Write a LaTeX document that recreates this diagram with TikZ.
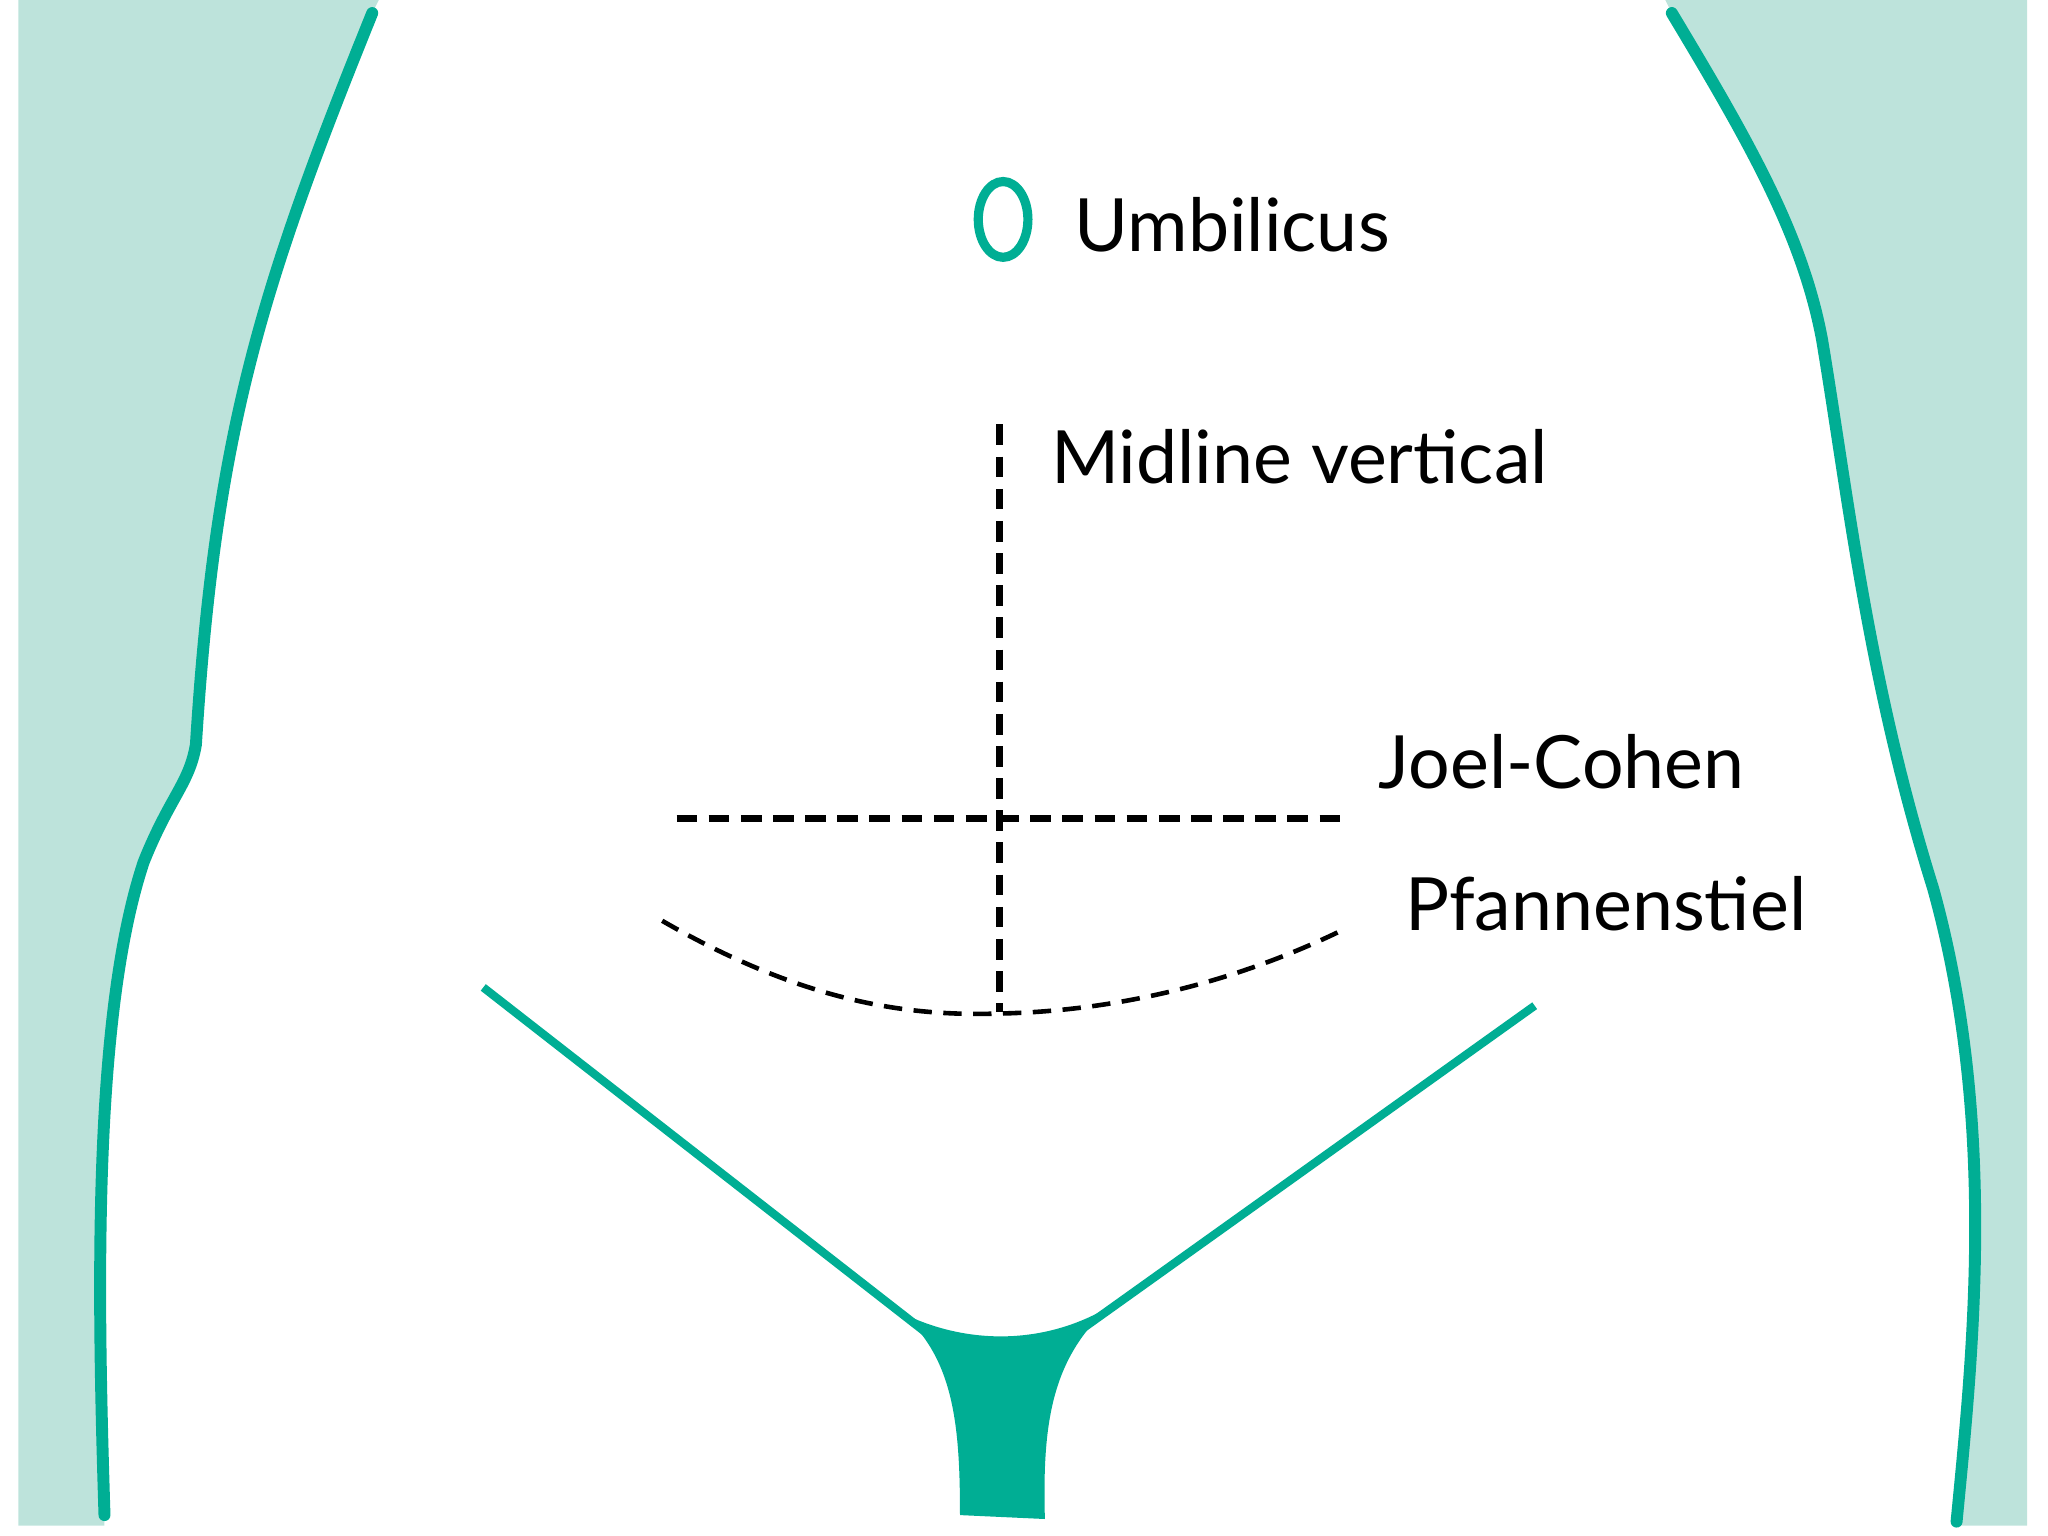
\documentclass[tikz,border=0pt]{standalone}
\usepackage{fontspec}
\setmainfont{Lato}
\definecolor{teal1}{HTML}{00AE94}
\definecolor{teallight}{HTML}{BDE3DB}
\begin{document}
\begin{tikzpicture}[x=0.01cm,y=-0.01cm,
  edge/.style={teal1,line width=2.6pt,line cap=round},
  lab/.style={anchor=west,font=\fontsize{16}{19}\selectfont,inner sep=0pt},
  cut/.style={black,line width=1.5pt,dash pattern=on 4.5pt off 2.5pt}]
\useasboundingbox (0,0) rectangle (1568,1176);
% left side
\fill[teallight] (14,0) -- (290,0) -- (285,10) .. controls (200,220) and (165,330) .. (150,570)
  .. controls (145,600) and (130,610) .. (110,660) .. controls (70,780) and (75,1000) .. (80,1160) -- (80,1168) -- (14,1168) -- cycle;
\draw[edge] (285,10) .. controls (200,220) and (165,330) .. (150,570)
  .. controls (145,600) and (130,610) .. (110,660) .. controls (70,780) and (75,1000) .. (80,1160);
% right side
\fill[teallight] (1552,0) -- (1275,0) -- (1280,10) .. controls (1340,110) and (1380,180) .. (1395,260)
  .. controls (1415,380) and (1430,520) .. (1480,680) .. controls (1530,860) and (1510,1040) .. (1498,1165) -- (1498,1168) -- (1552,1168) -- cycle;
\draw[edge] (1280,10) .. controls (1340,110) and (1380,180) .. (1395,260)
  .. controls (1415,380) and (1430,520) .. (1480,680) .. controls (1530,860) and (1510,1040) .. (1498,1165);
% umbilicus
\draw[teal1,line width=2pt] (768,168) ellipse [x radius=19,y radius=29];
\node[lab] (umb) at (822,172) {Umbilicus};
% incisions
\coordinate (mt) at (765,325); \coordinate (mb) at (765,775);
\draw[cut] (mt) -- (mb);
\node[lab] (mid) at (804,350) {Midline vertical};
\coordinate (jl) at (518,627); \coordinate (jr) at (1032,627);
\draw[cut] (jl) -- (jr);
\node[lab] (jc) at (1055,583) {Joel-Cohen};
\coordinate (pl) at (507,705); \coordinate (pr) at (1028,712);
\draw[black,line width=1pt,dash pattern=on 4pt off 2.5pt] (pl) .. controls (620,770) and (700,778) .. (765,776) .. controls (860,774) and (950,750) .. (pr);
\node[lab] (pf) at (1075,692) {Pfannenstiel};
% groin
\draw[teal1,line width=1.8pt] (370,756) -- (715,1025);
\draw[teal1,line width=1.8pt] (1175,770) -- (825,1020);
\fill[teal1] (690,1005) .. controls (730,1040) and (735,1090) .. (735,1160) -- (800,1163)
  .. controls (798,1090) and (805,1040) .. (850,1000) .. controls (800,1030) and (740,1030) .. cycle;
\end{tikzpicture}
\end{document}
